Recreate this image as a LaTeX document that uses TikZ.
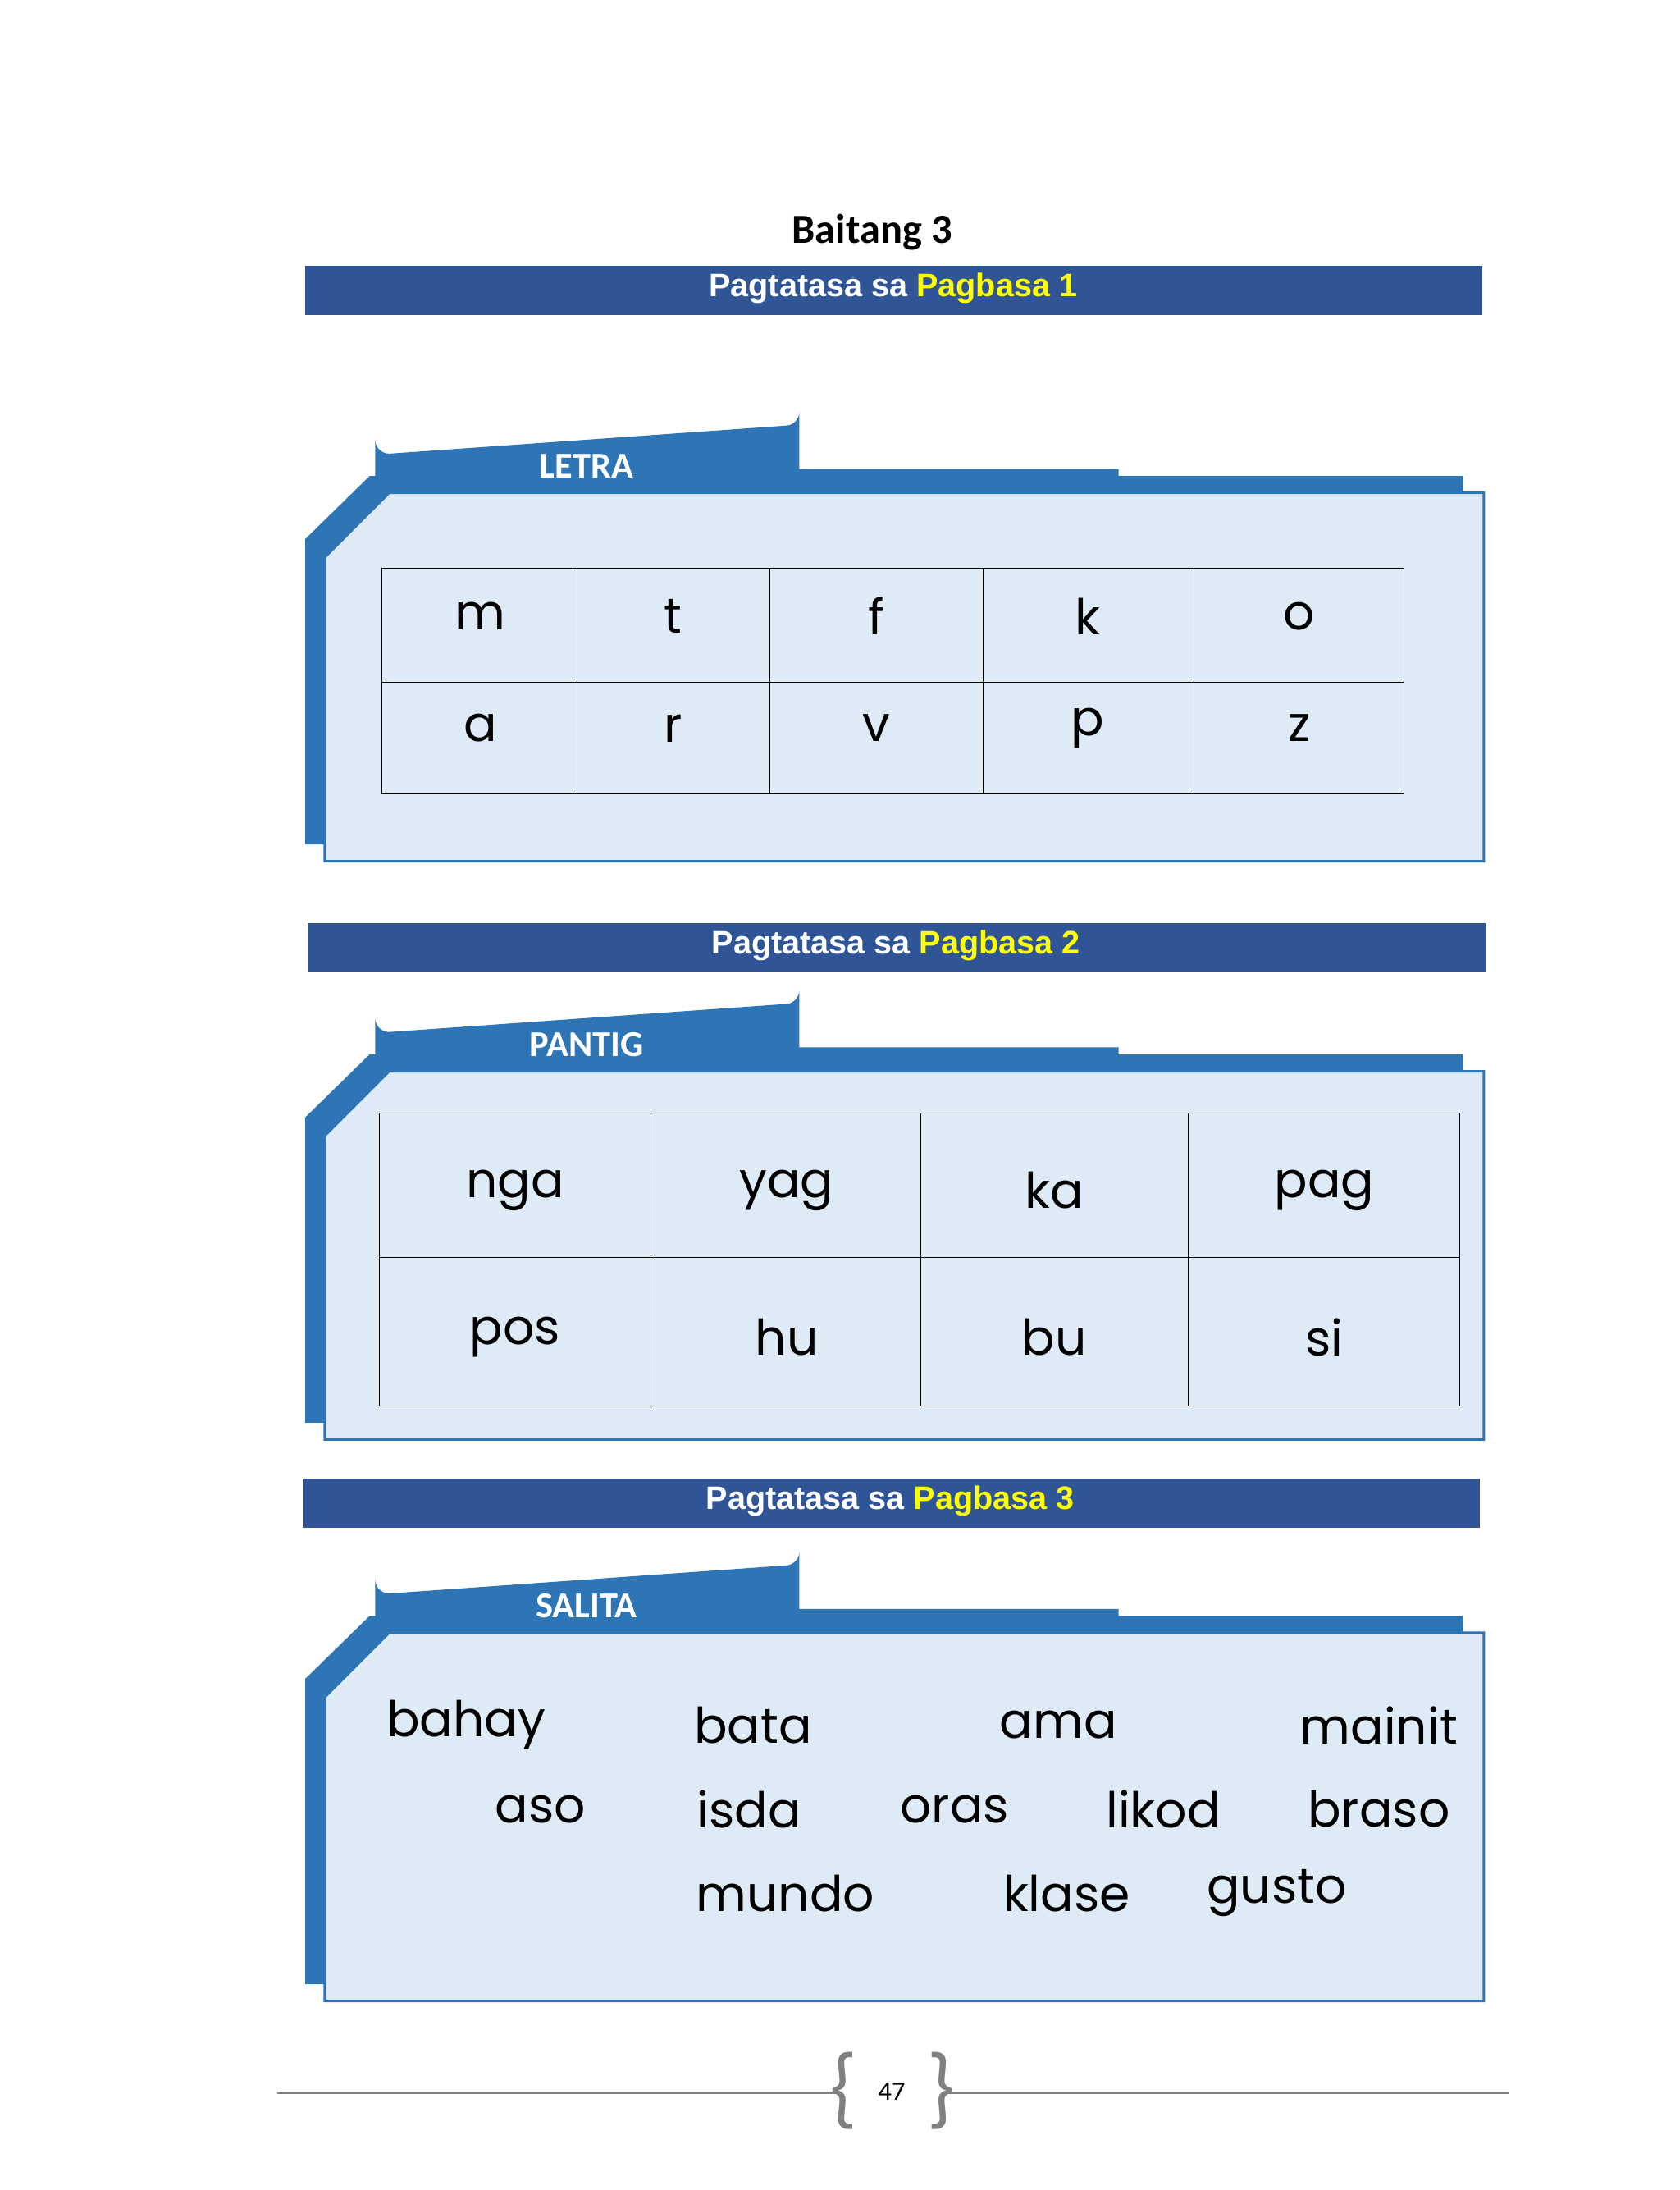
\documentclass[tikz,border=0pt]{standalone}
\usepackage{fontspec}
\setmainfont{Poppins}
\newfontfamily\carlfont{Carlito}
\newfontfamily\arsfont{Liberation Sans}
\definecolor{dkb}{HTML}{2E75B6}
\definecolor{ban}{HTML}{2F5597}
\definecolor{lite}{HTML}{DEEAF6}
\definecolor{yel}{HTML}{FFFF00}
\begin{document}
\begin{tikzpicture}[x=0.05cm,y=-0.05cm,
  bantext/.style={font=\arsfont\bfseries\fontsize{33}{36}\selectfont,text=white},
  tabtext/.style={font=\carlfont\bfseries\fontsize{37}{40}\selectfont,text=white},
  cell/.style={font=\fontsize{50}{56}\selectfont},
  wordt/.style={font=\fontsize{50}{56}\selectfont}]
\useasboundingbox (0,0) rectangle (1200,1564);
\node[font=\carlfont\bfseries\fontsize{42}{46}\selectfont] (title) at (623,166) {Baitang 3};
% banners
\foreach \x/\y/\n in {218/190/1,220/659/2,216/1056/3}{
  \fill[ban] (\x,\y) rectangle ++(841,35);
  \node[bantext] (ban\n) at (\x+420,\y+16) {Pagtatasa sa \textcolor{yel}{Pagbasa \n}};
}
% folders
\foreach \d/\lab in {0/LETRA,413/PANTIG,814/SALITA}{
 \begin{scope}[yshift=-\d*0.05cm]
  \fill[dkb] (218,603) -- (218,385) -- (264,340) -- (268,340) -- (268,314)
     arc[start angle=180,end angle=90,radius=10] -- (561,304)
     arc[start angle=90,end angle=0,radius=10] -- (571,335) -- (799,335) -- (799,340)
     -- (1045,340) -- (1045,352) -- (1045,603) -- cycle;
  \filldraw[fill=lite,draw=dkb,line width=2.5pt] (278,352) -- (1060,352) -- (1060,615) -- (232,615) -- (232,398) -- cycle;
  \node[tabtext] at (419,333) {\lab};
 \end{scope}
}
% table 1
\draw[line width=0.8pt] (273,406) rectangle (1003,567) (273,487) -- (1003,487);
\foreach \x in {412,550,702,853} \draw[line width=0.8pt] (\x,406) -- (\x,567);
\foreach \t/\x in {m/343,t/481,f/626,k/777,o/928} \node[cell] (c1\t) at (\x,440) {\t};
\foreach \t/\x in {a/343,r/481,v/626,p/777,z/928} \node[cell] (c2\t) at (\x,520) {\t};
% table 2
\draw[line width=0.8pt] (271,795) rectangle (1043,1004) (271,898) -- (1043,898);
\foreach \x in {465,658,849} \draw[line width=0.8pt] (\x,795) -- (\x,1004);
\foreach \t/\x in {nga/368,yag/562,ka/753,pag/946} \node[cell] (p\t) at (\x,850) {\t};
\foreach \t/\x in {pos/368,hu/562,bu/753,si/946} \node[cell] (p\t) at (\x,955) {\t};
% words
\foreach \t/\x/\y in {bahay/333/1232,bata/538/1232,ama/756/1232,mainit/985/1232,aso/386/1292,isda/535/1292,oras/682/1292,likod/831/1292,braso/985/1292,mundo/561/1352,klase/762/1352,gusto/912/1352}
  \node[wordt] (w\t) at (\x,\y) {\t};
% footer
\draw[gray,line width=1.5pt] (198,1495) -- (598,1495) (677,1495) -- (1078,1495);
\node[text=gray,font=\fontsize{70}{70}\selectfont] (lb) at (601,1493) {\{};
\node[text=gray,font=\fontsize{70}{70}\selectfont] (rb) at (674,1493) {\}};
\node[font=\carlfont\fontsize{27}{30}\selectfont] (pg) at (637,1494) {47};
\end{tikzpicture}
\end{document}
